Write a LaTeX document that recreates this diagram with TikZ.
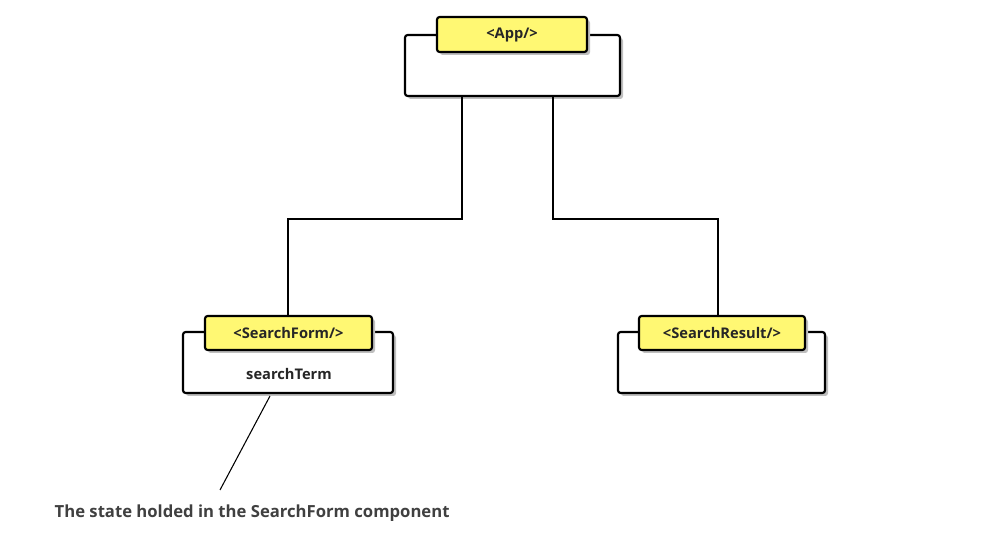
\documentclass[tikz,border=0pt]{standalone}
\usepackage{fontspec}
\setmainfont{Open Sans}
\begin{document}
\begin{tikzpicture}[x=0.75pt,y=-0.75pt,
  outer/.style={draw=black,line width=1.6pt,fill=white,rounded corners=2pt},
  shadowbox/.style={fill=black!25,rounded corners=2pt},
  tag/.style={draw=black,line width=1.6pt,fill=yellow!55!white,rounded corners=2pt},
  conn/.style={line width=1.6pt},
  tagtext/.style={font=\fontsize{11}{13}\selectfont\bfseries,text=black!85}]
\useasboundingbox (0,0) rectangle (1000,541);
% shadows
\foreach \a/\b/\c/\d in {405/35/620/96,183/332/393/393,618/332/825/393}{
  \fill[shadowbox] (\a+3,\b+3) rectangle (\c+3,\d+3);
  \draw[outer] (\a,\b) rectangle (\c,\d);}
\foreach \a/\b/\c/\d in {437/17/587/52,205/316/372/350,639/316/805/350}{
  \fill[shadowbox] (\a+3,\b+3) rectangle (\c+3,\d+3);
  \draw[tag] (\a,\b) rectangle (\c,\d);}
\node[tagtext] (app) at (512,35) {<App/>};
\node[tagtext] (sf) at (288.5,333) {<SearchForm/>};
\node[tagtext] (sr) at (722,333) {<SearchResult/>};
\coordinate (appL) at (462,96);
\coordinate (appR) at (553,96);
\coordinate (sfT) at (288,316);
\coordinate (srT) at (718,316);
\draw[conn] (appL) -- (462,219) -| (sfT);
\draw[conn] (appR) -- (553,219) -| (srT);
\node[tagtext] (st) at (289,374) {searchTerm};
\coordinate (pe) at (220,490);
\draw[line width=0.8pt] (270,396) -- (pe);
\node[anchor=west,font=\fontsize{12.5}{15}\selectfont\bfseries,text=black!75] (lbl) at (50,513) {The state holded in the SearchForm component};
\end{tikzpicture}
\end{document}
